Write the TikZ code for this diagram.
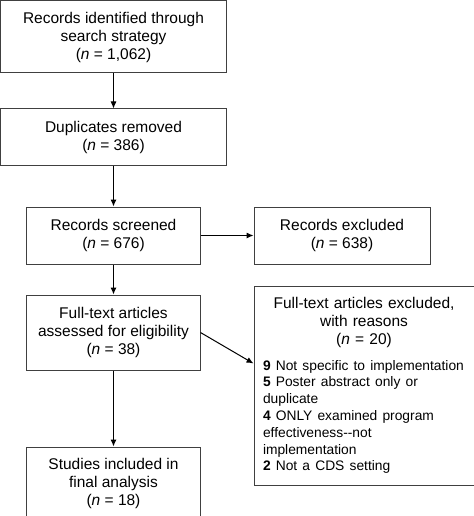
\documentclass[tikz,border=0pt]{standalone}
\usepackage{fontspec}
\setmainfont{Liberation Sans}
\usetikzlibrary{shapes, arrows, arrows.meta, positioning, calc}

\begin{document}
\begin{tikzpicture}[x=1bp, y=1bp,
                box/.style={draw=black!75, line width=1bp, align=center, inner sep=0pt, font=\fontsize{15.5bp}{18bp}\selectfont},
                flow/.style={-{Latex[length=7bp, width=6bp]}, line width=1bp}]
                \useasboundingbox (0,0) rectangle (474,-516);
                \node[box, minimum width=225bp, minimum height=72bp] at (113.5,-37) (ident) {Records identified through\\ search strategy\\ (\textit{n} = 1,062)};
                \node[box, minimum width=225bp, minimum height=56bp, below=35bp of ident] (dup) {Duplicates removed\\ (\textit{n} = 386)};
                \node[box, minimum width=173bp, minimum height=57bp, below=41bp of dup] (screen) {Records screened\\ (\textit{n} = 676)};
                \node[box, minimum width=173bp, minimum height=75bp, below=30bp of screen] (assess) {Full-text articles\\ assessed for eligibility\\ (\textit{n} = 38)};
                \node[box, minimum width=173bp, minimum height=72bp, below=76bp of assess] (incl) {Studies included in\\ final analysis\\ (\textit{n} = 18)};
                \node[box, minimum width=176bp, minimum height=57bp, right=53bp of screen] (excl) {Records excluded\\ (\textit{n} = 638)};
                \node[box, text width=202bp, minimum width=220bp, minimum height=199bp, below=21bp of excl.south west, anchor=north west] (ftexcl) {\centering Full-text articles excluded,\\ with reasons\\ (\textit{n} = 20)\par\vspace{9bp}
                \raggedright\fontsize{13.8bp}{16.8bp}\selectfont
                \textbf{9} Not specific to implementation\\ \textbf{5} Poster abstract only or\\ duplicate\\ \textbf{4} ONLY examined program\\ effectiveness{-}{-}not\\ implementation\\ \textbf{2} Not a CDS setting\par};
                \coordinate (ftin) at ($(ftexcl.north west)+(0,-78)$);
                \draw[flow] (ident) -- (dup);
                \draw[flow] (dup) -- (screen);
                \draw[flow] (screen) -- (assess);
                \draw[flow] (assess) -- (incl);
                \draw[flow] (screen) -- (excl);
                \draw[flow] (assess.east) -- (ftin);
            \end{tikzpicture}
\end{document}
